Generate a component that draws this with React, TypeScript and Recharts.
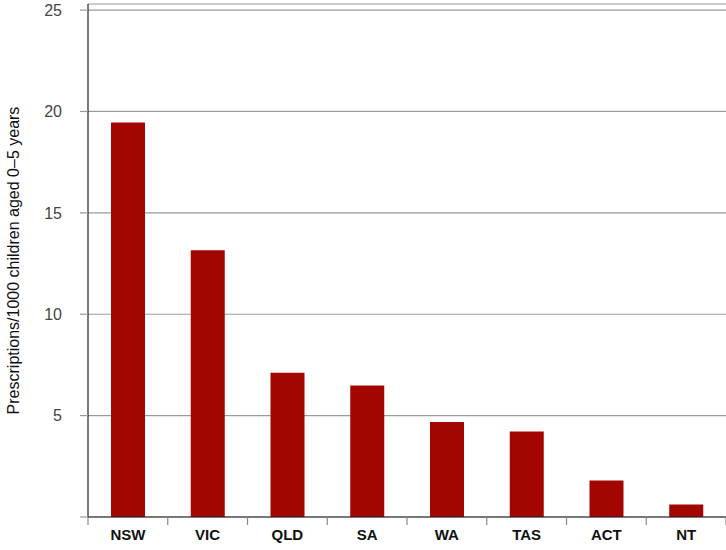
import { BarChart, Bar, XAxis, YAxis, CartesianGrid } from 'recharts';

const states = ['NSW', 'VIC', 'QLD', 'SA', 'WA', 'TAS', 'ACT', 'NT'];
const prescriptions = [19.45, 13.15, 7.12, 6.48, 4.68, 4.22, 1.8, 0.62];
const yTicks = [0, 5, 10, 15, 20, 25];

const data = states.map((state, i) => ({ state, value: prescriptions[i] }));

const font = '"Liberation Sans", Arial, Helvetica, sans-serif';

// label in the middle of the band, tick marks on the band edges
function StateTick(props: any) {
  const { x, y, payload, index } = props;
  const half = payload.offset || 0;
  const last = index === states.length - 1;
  return (
    <g>
      <line x1={x - half} x2={x - half} y1={y} y2={y + 8} stroke="#888" strokeWidth={1.2} />
      {last && <line x1={x + half} x2={x + half} y1={y} y2={y + 8} stroke="#888" strokeWidth={1.2} />}
      <text
        x={x}
        y={y + 12}
        dy="0.71em"
        textAnchor="middle"
        fontSize={15}
        fontWeight="bold"
        fill="#111"
        fontFamily={font}
      >
        {payload.value}
      </text>
    </g>
  );
}

export default function App() {
  return (
    <div style={{ position: 'absolute', left: 0, top: 0, width: 726, height: 550, background: '#fff' }}>
      <BarChart
        width={726}
        height={550}
        data={data}
        margin={{ top: 4, right: 0, left: 0, bottom: 0 }}
        barCategoryGap={0}
      >
        <CartesianGrid vertical={false} stroke="#9a9a9a" strokeWidth={1.2} />
        <XAxis
          dataKey="state"
          height={33}
          axisLine={{ stroke: '#222', strokeWidth: 1.2 }}
          tickLine={false}
          tickSize={0}
          tickMargin={0}
          tick={<StateTick />}
          interval={0}
        />
        <YAxis
          width={88}
          domain={[0, 25.3]}
          ticks={yTicks}
          allowDataOverflow
          axisLine={{ stroke: '#222', strokeWidth: 1.2 }}
          tickLine={{ stroke: '#999', strokeWidth: 1.2 }}
          tickSize={8}
          tickMargin={18}
          tickFormatter={(v) => (v === 0 ? '' : String(v))}
          tick={{ fontSize: 16, fill: '#444', fontFamily: font }}
          label={{
            value: 'Prescriptions/1000 children aged 0–5 years',
            angle: -90,
            position: 'insideLeft',
            dx: 8,
            style: { textAnchor: 'middle', fontSize: 16, fill: '#111', fontFamily: font },
          }}
        />
        <Bar dataKey="value" fill="#a30500" barSize={34} isAnimationActive={false} />
      </BarChart>
    </div>
  );
}
